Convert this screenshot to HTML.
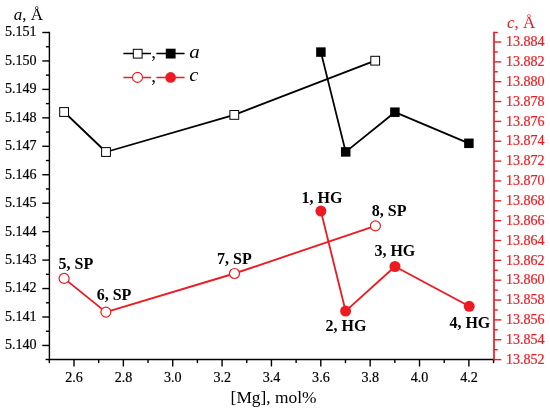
<!DOCTYPE html>
<html><head><meta charset="utf-8"><title>chart</title>
<style>html,body{margin:0;padding:0;background:#fff}svg{display:block}text{font-family:"Liberation Serif", "DejaVu Serif", serif}</style></head>
<body>
<svg width="550" height="413" viewBox="0 0 550 413">
<rect width="550" height="413" fill="#fff"/>
<g stroke="#000" stroke-width="1.4" fill="none">
<path d="M49.4 31.80 V359.5 H494.70"/>
<path d="M49.4 32.50 H42.3"/>
<path d="M49.4 46.73 H45.9"/>
<path d="M49.4 60.95 H42.3"/>
<path d="M49.4 75.17 H45.9"/>
<path d="M49.4 89.40 H42.3"/>
<path d="M49.4 103.62 H45.9"/>
<path d="M49.4 117.85 H42.3"/>
<path d="M49.4 132.07 H45.9"/>
<path d="M49.4 146.30 H42.3"/>
<path d="M49.4 160.53 H45.9"/>
<path d="M49.4 174.75 H42.3"/>
<path d="M49.4 188.97 H45.9"/>
<path d="M49.4 203.20 H42.3"/>
<path d="M49.4 217.42 H45.9"/>
<path d="M49.4 231.65 H42.3"/>
<path d="M49.4 245.88 H45.9"/>
<path d="M49.4 260.10 H42.3"/>
<path d="M49.4 274.33 H45.9"/>
<path d="M49.4 288.55 H42.3"/>
<path d="M49.4 302.78 H45.9"/>
<path d="M49.4 317.00 H42.3"/>
<path d="M49.4 331.23 H45.9"/>
<path d="M49.4 345.45 H42.3"/>
<path d="M49.4 359.50 H45.6"/>
<path d="M49.32 359.5 V363.1"/>
<path d="M74.00 359.5 V366.5"/>
<path d="M98.68 359.5 V363.1"/>
<path d="M123.36 359.5 V366.5"/>
<path d="M148.04 359.5 V363.1"/>
<path d="M172.72 359.5 V366.5"/>
<path d="M197.40 359.5 V363.1"/>
<path d="M222.08 359.5 V366.5"/>
<path d="M246.76 359.5 V363.1"/>
<path d="M271.44 359.5 V366.5"/>
<path d="M296.12 359.5 V363.1"/>
<path d="M320.80 359.5 V366.5"/>
<path d="M345.48 359.5 V363.1"/>
<path d="M370.16 359.5 V366.5"/>
<path d="M394.84 359.5 V363.1"/>
<path d="M419.52 359.5 V366.5"/>
<path d="M444.20 359.5 V363.1"/>
<path d="M468.88 359.5 V366.5"/>
<path d="M493.56 359.5 V363.1"/>
</g>
<g stroke="#ee1a22" stroke-width="1.7" fill="none">
<path d="M494.0 31.80 V360.20"/>
</g>
<g stroke="#ee1a22" stroke-width="1.4" fill="none">
<path d="M494.0 359.60 H501.2"/>
<path d="M494.0 349.68 H497.8"/>
<path d="M494.0 339.75 H501.2"/>
<path d="M494.0 329.82 H497.8"/>
<path d="M494.0 319.90 H501.2"/>
<path d="M494.0 309.97 H497.8"/>
<path d="M494.0 300.05 H501.2"/>
<path d="M494.0 290.13 H497.8"/>
<path d="M494.0 280.20 H501.2"/>
<path d="M494.0 270.27 H497.8"/>
<path d="M494.0 260.35 H501.2"/>
<path d="M494.0 250.43 H497.8"/>
<path d="M494.0 240.50 H501.2"/>
<path d="M494.0 230.58 H497.8"/>
<path d="M494.0 220.65 H501.2"/>
<path d="M494.0 210.72 H497.8"/>
<path d="M494.0 200.80 H501.2"/>
<path d="M494.0 190.88 H497.8"/>
<path d="M494.0 180.95 H501.2"/>
<path d="M494.0 171.02 H497.8"/>
<path d="M494.0 161.10 H501.2"/>
<path d="M494.0 151.17 H497.8"/>
<path d="M494.0 141.25 H501.2"/>
<path d="M494.0 131.33 H497.8"/>
<path d="M494.0 121.40 H501.2"/>
<path d="M494.0 111.47 H497.8"/>
<path d="M494.0 101.55 H501.2"/>
<path d="M494.0 91.63 H497.8"/>
<path d="M494.0 81.70 H501.2"/>
<path d="M494.0 71.78 H497.8"/>
<path d="M494.0 61.85 H501.2"/>
<path d="M494.0 51.92 H497.8"/>
<path d="M494.0 42.00 H501.2"/>
<path d="M494.0 32.50 H497.8"/>
</g>
<g font-size="14.1" fill="#000" stroke="#000" stroke-width="0.2" text-anchor="end">
<text x="36.6" y="36.4">5.151</text>
<text x="36.6" y="64.9">5.150</text>
<text x="36.6" y="93.3">5.149</text>
<text x="36.6" y="121.8">5.148</text>
<text x="36.6" y="150.2">5.147</text>
<text x="36.6" y="178.7">5.146</text>
<text x="36.6" y="207.1">5.145</text>
<text x="36.6" y="235.6">5.144</text>
<text x="36.6" y="264.0">5.143</text>
<text x="36.6" y="292.4">5.142</text>
<text x="36.6" y="320.9">5.141</text>
<text x="36.6" y="349.3">5.140</text>
</g>
<g font-size="14.1" fill="#000" stroke="#000" stroke-width="0.2" text-anchor="middle">
<text x="74.1" y="382.2">2.6</text>
<text x="123.5" y="382.2">2.8</text>
<text x="172.8" y="382.2">3.0</text>
<text x="222.2" y="382.2">3.2</text>
<text x="271.5" y="382.2">3.4</text>
<text x="320.9" y="382.2">3.6</text>
<text x="370.3" y="382.2">3.8</text>
<text x="419.6" y="382.2">4.0</text>
<text x="469.0" y="382.2">4.2</text>
</g>
<g font-size="14.1" fill="#ee1a22" stroke="#ee1a22" stroke-width="0.2">
<text x="505.9" y="363.7">13.852</text>
<text x="505.9" y="343.8">13.854</text>
<text x="505.9" y="324.0">13.856</text>
<text x="505.9" y="304.1">13.858</text>
<text x="505.9" y="284.3">13.860</text>
<text x="505.9" y="264.5">13.862</text>
<text x="505.9" y="244.6">13.864</text>
<text x="505.9" y="224.8">13.866</text>
<text x="505.9" y="204.9">13.868</text>
<text x="505.9" y="185.0">13.870</text>
<text x="505.9" y="165.2">13.872</text>
<text x="505.9" y="145.3">13.874</text>
<text x="505.9" y="125.5">13.876</text>
<text x="505.9" y="105.7">13.878</text>
<text x="505.9" y="85.8">13.880</text>
<text x="505.9" y="66.0">13.882</text>
<text x="505.9" y="46.1">13.884</text>
</g>
<text x="13.8" y="20" font-size="17" fill="#000"><tspan font-style="italic">a</tspan>, Å</text>
<text x="507" y="27.8" font-size="17" fill="#ee1a22"><tspan font-style="italic">c</tspan>, Å</text>
<text x="230.6" y="403.2" font-size="17.4" fill="#000">[Mg], mol%</text>
<polyline points="64.1,112.0 106.0,152.0 234.3,114.9 375.2,60.7" fill="none" stroke="#000" stroke-width="1.8" stroke-linejoin="round"/>
<polyline points="320.9,52.1 345.7,151.9 394.9,112.2 468.9,143.3" fill="none" stroke="#000" stroke-width="1.8" stroke-linejoin="round"/>
<rect x="59.70" y="107.60" width="8.8" height="8.8" fill="#fff" stroke="#000" stroke-width="1.0"/>
<rect x="101.60" y="147.60" width="8.8" height="8.8" fill="#fff" stroke="#000" stroke-width="1.0"/>
<rect x="229.90" y="110.50" width="8.8" height="8.8" fill="#fff" stroke="#000" stroke-width="1.0"/>
<rect x="370.80" y="56.30" width="8.8" height="8.8" fill="#fff" stroke="#000" stroke-width="1.0"/>
<rect x="316.15" y="47.35" width="9.5" height="9.5" fill="#000"/>
<rect x="340.95" y="147.15" width="9.5" height="9.5" fill="#000"/>
<rect x="390.15" y="107.45" width="9.5" height="9.5" fill="#000"/>
<rect x="464.15" y="138.55" width="9.5" height="9.5" fill="#000"/>
<polyline points="64.1,278.4 105.9,312.1 234.5,273.5 375.4,225.9" fill="none" stroke="#ee1a22" stroke-width="1.85" stroke-linejoin="round"/>
<polyline points="320.9,211.1 345.6,311.1 395.0,266.5 469.2,306.3" fill="none" stroke="#ee1a22" stroke-width="1.85" stroke-linejoin="round"/>
<circle cx="64.1" cy="278.4" r="5.0" fill="#fff" stroke="#ee1a22" stroke-width="1.2"/>
<circle cx="105.9" cy="312.1" r="5.0" fill="#fff" stroke="#ee1a22" stroke-width="1.2"/>
<circle cx="234.5" cy="273.5" r="5.0" fill="#fff" stroke="#ee1a22" stroke-width="1.2"/>
<circle cx="375.4" cy="225.9" r="5.0" fill="#fff" stroke="#ee1a22" stroke-width="1.2"/>
<circle cx="320.9" cy="211.1" r="5.5" fill="#ee1a22"/>
<circle cx="345.6" cy="311.1" r="5.5" fill="#ee1a22"/>
<circle cx="395.0" cy="266.5" r="5.5" fill="#ee1a22"/>
<circle cx="469.2" cy="306.3" r="5.5" fill="#ee1a22"/>
<g font-size="16.0" font-weight="bold" fill="#000">
<text x="58.6" y="268.6">5, SP</text>
<text x="96.7" y="300.4">6, SP</text>
<text x="217.1" y="263.6">7, SP</text>
<text x="301.5" y="202.7">1, HG</text>
<text x="371.8" y="215.8">8, SP</text>
<text x="374.4" y="256.1">3, HG</text>
<text x="325.6" y="331.1">2, HG</text>
<text x="449.4" y="328.2">4, HG</text>
</g>
<g stroke-width="1.5">
<path d="M123.4 53.5 H151 M156.4 53.5 H184.6" stroke="#000"/>
<path d="M123.4 77.4 H151 M156.4 77.4 H184.6" stroke="#ee1a22"/>
</g>
<rect x="133.3" y="49.3" width="8.8" height="8.8" fill="#fff" stroke="#000" stroke-width="1.0"/>
<rect x="165.8" y="48.7" width="9.8" height="9.8" fill="#000"/>
<circle cx="137.5" cy="77.4" r="5.0" fill="#fff" stroke="#ee1a22" stroke-width="1.1"/>
<circle cx="170.6" cy="77.4" r="5.3" fill="#ee1a22"/>
<g font-size="19" fill="#000"><text x="151.2" y="57.5">,</text><text x="151.2" y="81.6">,</text></g>
<g font-size="17.8" fill="#000" font-style="italic"><text transform="translate(189.3 57.9) scale(1.18 1)">a</text><text transform="translate(189.3 81.2) scale(1.15 1)">c</text></g>
</svg>
</body></html>
